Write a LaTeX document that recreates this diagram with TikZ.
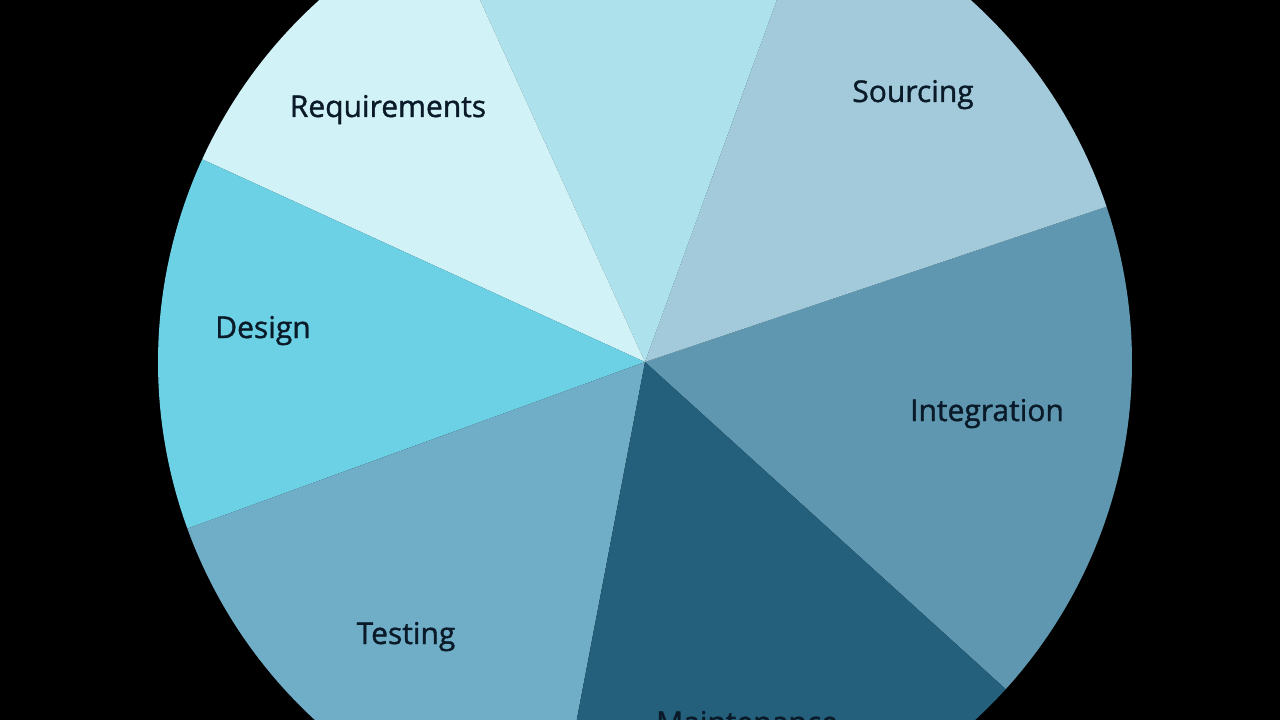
\documentclass[tikz,border=0pt]{standalone}
\usepackage{fontspec}
\setmainfont{Open Sans}
\newfontfamily\labelfont[FakeBold=1.2]{Open Sans}
\definecolor{integcol}{HTML}{5E97AF}
\definecolor{sourcecol}{HTML}{A2CADA}
\definecolor{topcol}{HTML}{ADE1EC}
\definecolor{reqcol}{HTML}{D1F2F7}
\definecolor{designcol}{HTML}{6DD1E5}
\definecolor{testcol}{HTML}{70ADC7}
\definecolor{maintcol}{HTML}{245F7B}
\definecolor{labelcol}{HTML}{0A1A28}
\tikzset{
  slicelabel/.style={anchor=base,inner sep=0.75pt,text=labelcol,font=\labelfont\fontsize{22.5}{26}\selectfont}
}
\begin{document}
\begin{tikzpicture}[x=0.75pt,y=0.75pt,yscale=-1,xscale=1]
%Background
\fill[black] (0,0) rectangle (1280,720);
\useasboundingbox (0,0) rectangle (1280,720);
\coordinate (c) at (645,362);

%Pie slices
\fill[integcol]  (c) -- ++(42.2:487) arc[start angle=42.2,end angle=-18.6,radius=487] -- cycle;
\fill[sourcecol] (c) -- ++(-18.6:487) arc[start angle=-18.6,end angle=-70,radius=487] -- cycle;
\fill[topcol]    (c) -- ++(-70:487) arc[start angle=-70,end angle=-114.5,radius=487] -- cycle;
\fill[reqcol]    (c) -- ++(-114.5:487) arc[start angle=-114.5,end angle=-155.4,radius=487] -- cycle;
\fill[designcol] (c) -- ++(-155.4:487) arc[start angle=-155.4,end angle=-200,radius=487] -- cycle;
\fill[testcol]   (c) -- ++(-200:487) arc[start angle=-200,end angle=-259.2,radius=487] -- cycle;
\fill[maintcol]  (c) -- ++(-259.2:487) arc[start angle=-259.2,end angle=-317.8,radius=487] -- cycle;

% Text Node
\node[slicelabel] (requirements) at (388,117) {Requirements};
% Text Node
\node[slicelabel] (sourcing) at (913,102) {Sourcing};
% Text Node
\node[slicelabel] (design) at (263,338) {Design};
% Text Node
\node[slicelabel] (integration) at (987,421) {Integration};
% Text Node
\node[slicelabel] (testing) at (406,644) {Testing};
% Text Node
\node[slicelabel] (maintenance) at (747,733) {Maintenance};

\end{tikzpicture}
\end{document}
